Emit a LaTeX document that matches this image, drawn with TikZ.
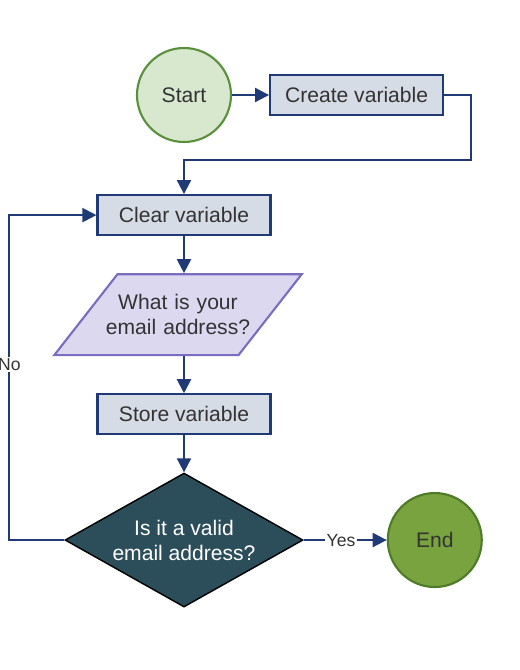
\documentclass[tikz,border=0pt]{standalone}
\usepackage{fontspec}
\setmainfont{Liberation Sans}
\usepackage{xcolor}
\usetikzlibrary{shapes.geometric, arrows.meta, positioning}

\definecolor{navy}{HTML}{1F3A75}
\definecolor{boxfill}{HTML}{D6DCE6}
\definecolor{startfill}{HTML}{D8E8CF}
\definecolor{startline}{HTML}{5A8F3C}
\definecolor{parafill}{HTML}{DCD8F0}
\definecolor{paraline}{HTML}{7B6CC0}
\definecolor{checkfill}{HTML}{2C4D5A}
\definecolor{stopfill}{HTML}{78A33E}
\definecolor{stopline}{HTML}{4F7A28}
\definecolor{textgray}{HTML}{333333}

\newcommand{\wideline}[1]{\makebox[0pt]{#1}}

\begin{document}
\begin{tikzpicture}[node distance=0.74cm, >={Triangle[length=0.28cm, width=0.28cm]}, line width=1.2pt, font=\fontsize{12}{14.2}\selectfont]
    % Styles
    \tikzstyle{terminal} = [circle, draw=startline, fill=startfill, minimum size=1.88cm, text=textgray]
    \tikzstyle{process} = [rectangle, draw=navy, fill=boxfill, minimum width=3.46cm, minimum height=0.8cm, text=textgray]
    \tikzstyle{io} = [trapezium, trapezium left angle=52, trapezium right angle=128, draw=paraline, fill=parafill, text width=2.42cm, inner xsep=0pt, inner ysep=0.405cm, align=center, text=textgray]
    \tikzstyle{decision} = [diamond, aspect=1.78, inner sep=0pt, draw=black, line width=0.8pt, fill=checkfill, minimum width=4.76cm, minimum height=2.68cm, align=center, text=white]
    \tikzstyle{flow} = [->, draw=navy]
    \tikzstyle{answer} = [fill=white, inner sep=1pt, text=textgray, font=\fontsize{10}{12}\selectfont]

    \useasboundingbox (0,0) rectangle (10.4,-13.4);

    % Nodes
    \node [terminal] (start) at (3.68,-1.9) {Start};
    \node [process, right=of start] (create) {Create variable};
    \node [process, below=1.02cm of start] (clear) {Clear variable};
    \node [io, below=of clear, xshift=-0.12cm] (ask) {\wideline{What is your}\\\wideline{email address?}};
    \node [process, below=of ask, xshift=0.12cm] (store) {Store variable};
    \node [decision, below=0.74cm of store] (check) {Is it a valid\\email address?};
    \node [terminal, right=1.66cm of check, fill=stopfill, draw=stopline, text=black!80] (stop) {End};

    % Connections
    \draw [flow] (start) -- (create);
    \draw [flow] (create.east) -- ++(0.54,0) -- ++(0,-1.3) -| (clear.north);
    \draw [flow] (clear.south) -- (clear.south |- ask.north);
    \draw [flow] (store.north |- ask.south) -- (store.north);
    \draw [flow] (store) -- (check);

    % Answers
    \draw [flow] (check.east) -- node[answer, pos=0.45] {Yes} (stop.west);
    \draw [flow] (check.west) -- ++(-1.1,0) |- node[answer, pos=0.27] {No} (clear.west);

\end{tikzpicture}
\end{document}
